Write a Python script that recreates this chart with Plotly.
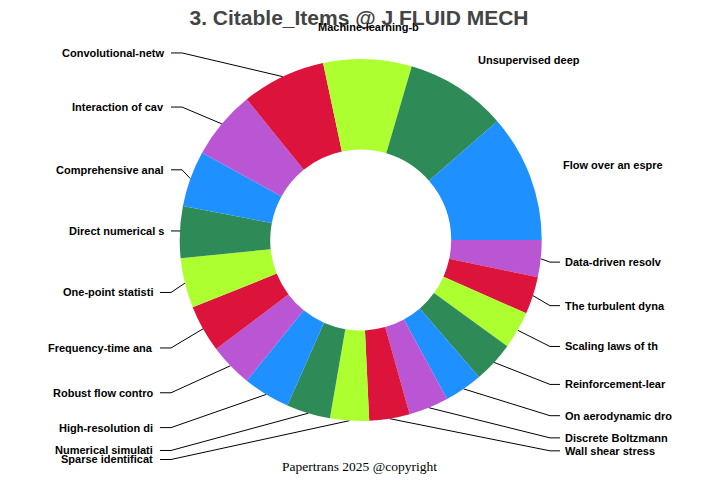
import math
import plotly.graph_objects as go

# slices in clockwise order starting at 3 o'clock
LABELS = [
    "Data-driven resolv", "The turbulent dyna", "Scaling laws of th",
    "Reinforcement-lear", "On aerodynamic dro", "Discrete Boltzmann",
    "Wall shear stress", "Sparse identificat", "Numerical simulati",
    "High-resolution di", "Robust flow contro", "Frequency-time ana",
    "One-point statisti", "Direct numerical s", "Comprehensive anal",
    "Interaction of cav", "Convolutional-netw", "Machine-learning-b",
    "Unsupervised deep", "Flow over an espre",
]
VALUES = [
    11.9, 12.0, 12.0, 13.3, 12.3, 12.8, 13.0, 12.5, 14.1, 15.1,
    14.0, 15.2, 16.0, 16.6, 18.0, 22.2, 27.0, 28.4, 32.6, 41.0,
]
PALETTE = ["#BA55D3", "#DC143C", "#ADFF2F", "#2E8B57", "#1E90FF"]
COLORS = [PALETTE[i % len(PALETTE)] for i in range(len(LABELS))]

TITLE = "3. Citable_Items @ J FLUID MECH"
FOOTER = "Papertrans 2025 @copyright"

W, H = 720, 480
CX, CY, R = 352.7, 232.0, 181.0   # pie centre / radius in pixels

# overlay axes in units of the pie radius, centred on the pie
x_range = [-CX / R, (W - CX) / R]
y_range = [-(H - CY) / R, CY / R]
pie_dom_x = [(CX - R) / W, (CX + R) / W]
pie_dom_y = [(H - CY - R) / H, (H - CY + R) / H]

LABEL_R = 1.18
LEFT_DROP = 0.035
# (elbow, line end, text x) per side, radius units
COL_RIGHT = (1.046, 1.101, 1.115)
COL_LEFT_TOP = (0.987, 1.048, 1.076)
COL_LEFT_BOTTOM = (1.048, 1.109, 1.136)

fig = go.Figure()
fig.add_trace(go.Pie(
    labels=LABELS,
    values=VALUES,
    hole=0.5,
    sort=False,
    direction="clockwise",
    rotation=90,
    marker=dict(colors=COLORS, line=dict(width=0)),
    textinfo="none",
    showlegend=False,
    domain=dict(x=pie_dom_x, y=pie_dom_y),
))

total = sum(VALUES)
line_x, line_y = [], []
annotations = []
cum = 0.0
for lab, v in zip(LABELS, VALUES):
    ang = math.radians(-(cum + v / 2) / total * 360)
    cum += v
    c, s = math.cos(ang), math.sin(ang)
    ly = LABEL_R * s
    if c > 0 and s > 0:
        # upper right labels sit freely, without leader lines
        lx = LABEL_R * c
        anchor = "center" if abs(c) < 0.2 else "left"
    else:
        if c > 0:
            side, cols = 1, COL_RIGHT
        else:
            side = -1
            cols = COL_LEFT_TOP if s > 0 else COL_LEFT_BOTTOM
            ly -= LEFT_DROP * abs(s)
        elbow, end, tx = cols
        line_x += [c, side * elbow, side * end, None]
        line_y += [s, ly, ly, None]
        lx = side * tx
        anchor = "left" if side > 0 else "right"
    annotations.append(dict(
        text=lab, x=lx, y=ly, xref="x", yref="y",
        xanchor=anchor, yanchor="middle", showarrow=False,
        font=dict(family="Arial, Liberation Sans", size=11, color="black", weight="bold"),
    ))

fig.add_trace(go.Scatter(
    x=line_x, y=line_y, mode="lines",
    line=dict(color="black", width=1),
    hoverinfo="skip", showlegend=False,
))

annotations.append(dict(
    text=FOOTER, x=351.5 / W, y=(H - 458) / H,
    xref="paper", yref="paper",
    xanchor="center", yanchor="middle", showarrow=False,
    font=dict(family="Times New Roman, Liberation Serif, serif", size=13.5, color="black"),
))

fig.update_layout(
    width=W,
    height=H,
    title=dict(
        text="<b>" + TITLE + "</b>",
        x=351 / W, xanchor="center",
        y=1 - 10 / H, yanchor="middle",
        font=dict(family="Arial, Liberation Sans", size=21, color="#444"),
    ),
    margin=dict(t=0, b=0, l=0, r=0),
    xaxis=dict(range=x_range, visible=False, fixedrange=True),
    yaxis=dict(range=y_range, visible=False, fixedrange=True),
    paper_bgcolor="white",
    plot_bgcolor="white",
    annotations=annotations,
)

fig.write_html("out.html")
